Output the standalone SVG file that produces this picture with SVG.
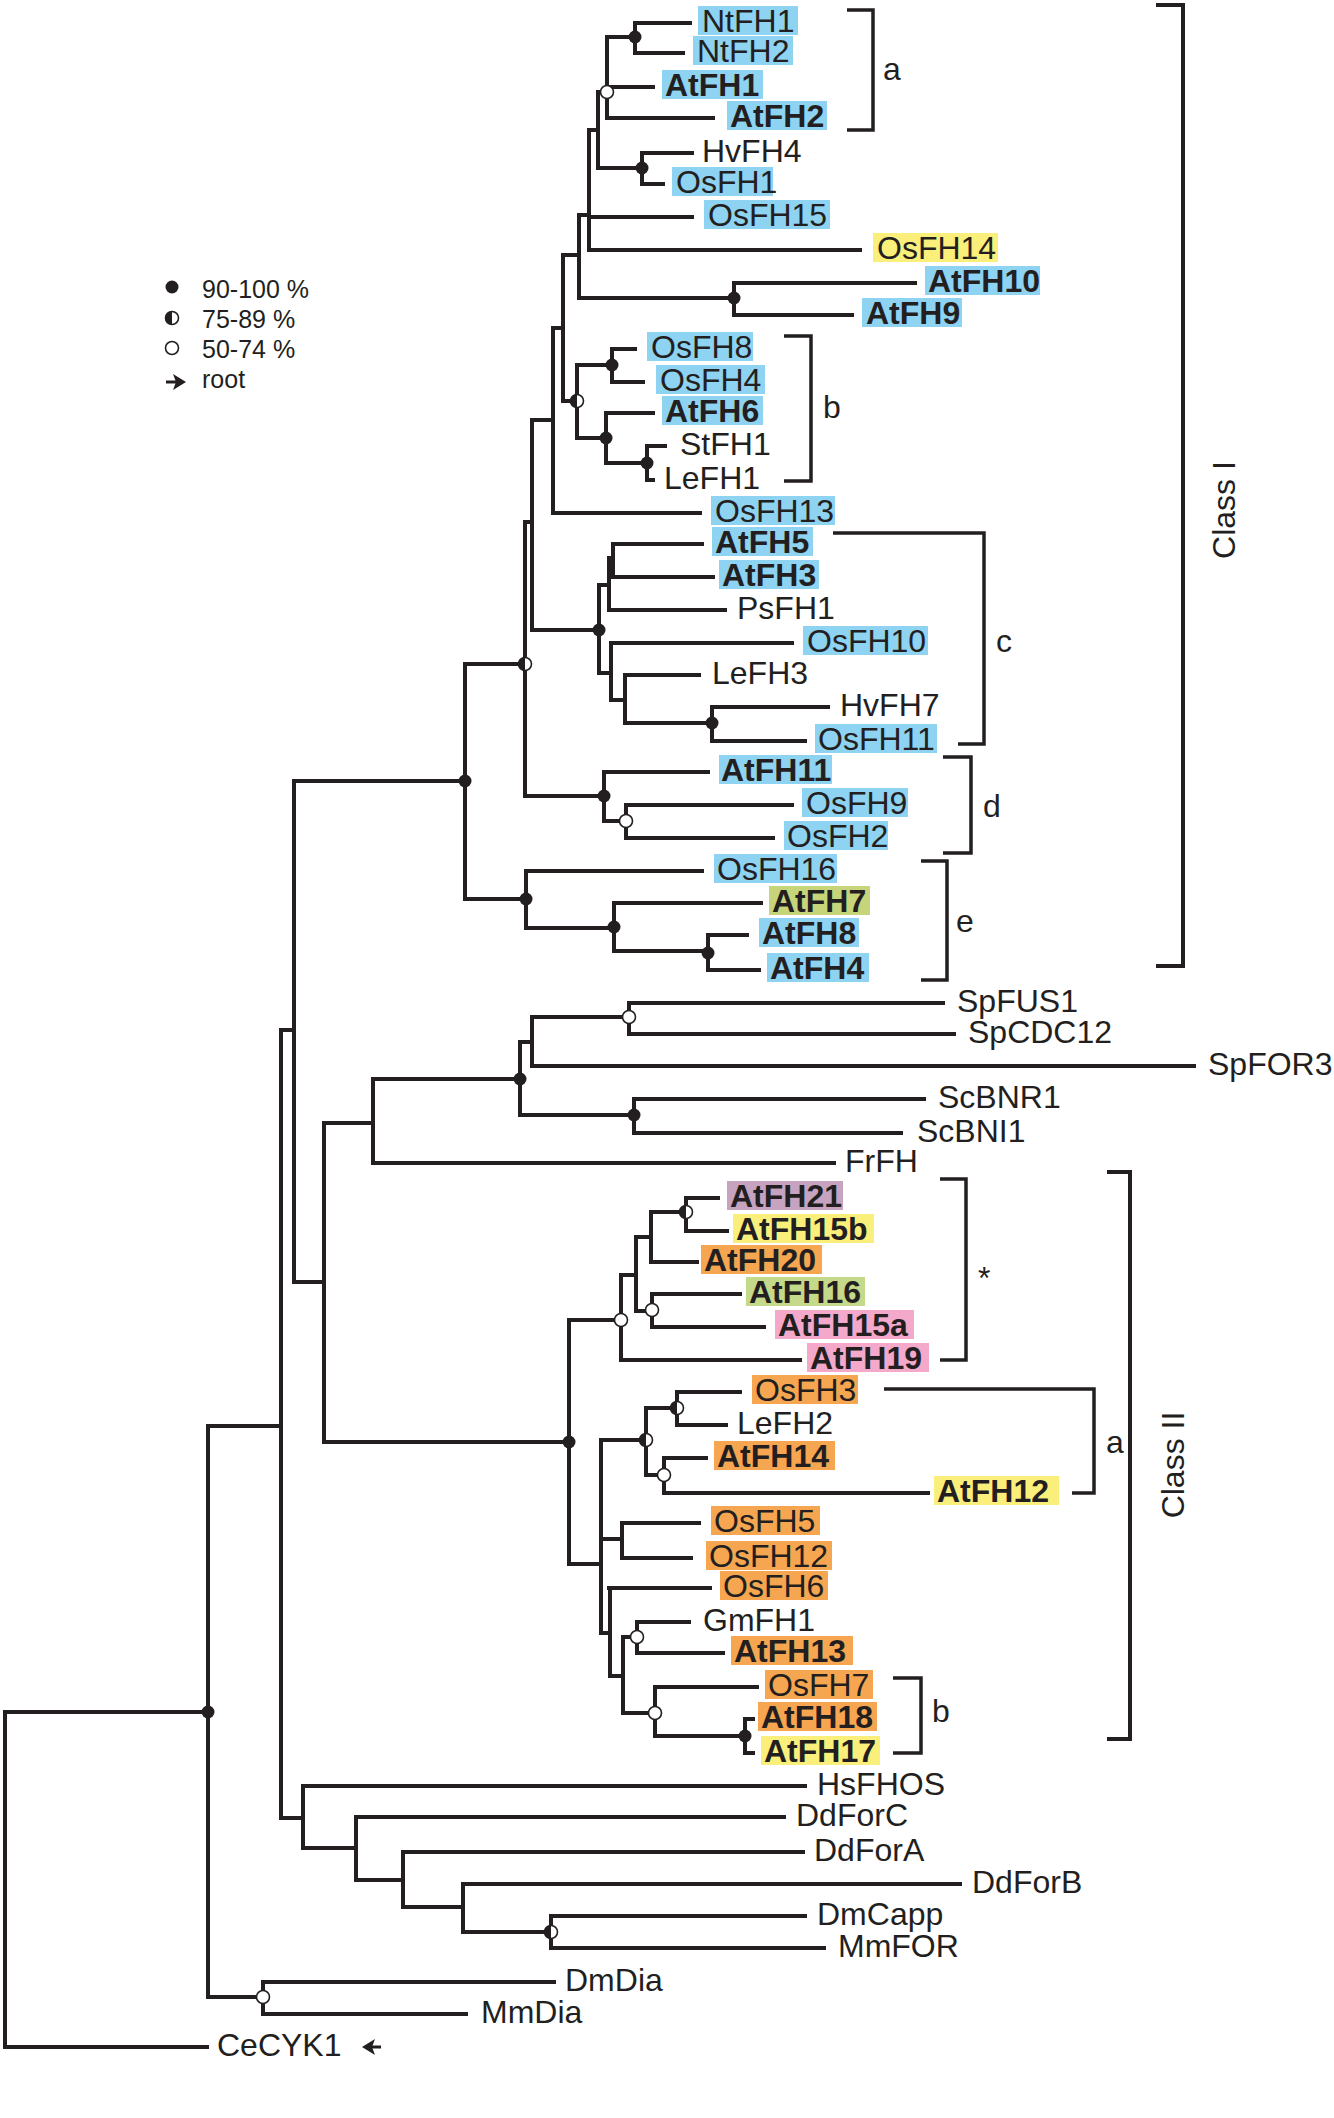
<svg xmlns="http://www.w3.org/2000/svg" xmlns:xlink="http://www.w3.org/1999/xlink" width="1334" height="2118" viewBox="0 0 1334 2118">
<defs>
<style>
.br{stroke:#231f20;stroke-width:4;fill:none;stroke-linecap:square}
.bk{stroke:#231f20;stroke-width:3.5;fill:none}
text{font-family:"Liberation Sans",Arial,Helvetica,sans-serif;font-size:32px;fill:#231f20}
.b{font-weight:bold}
.lg{font-size:25px}
.bl{fill:#8ed3f2}.ye{fill:#fbef7c}.or{fill:#f6a650}.ol{fill:#c8d47a}.gr{fill:#c5d98b}.mv{fill:#c6a4bf}.pk{fill:#f4a9cb}
</style>
<circle id="dF" r="6.5" fill="#231f20"/>
<circle id="dO" r="6.5" fill="#fff" stroke="#231f20" stroke-width="1.6"/>
<g id="dH"><circle r="6.5" fill="#fff" stroke="#231f20" stroke-width="1.6"/><path d="M0,-6.5A6.5,6.5 0 0 0 0,6.5Z" fill="#231f20"/></g>
</defs>
<rect width="1334" height="2118" fill="#fff"/>

<g id="connectors" class="br">
<path d="M635,23H690M635,53H683M607,87H653M607,118H713M642,153H692M642,184H663M589,217H692M589,250H860M734,283H915M734,315H852M612,349H635M612,382H643M606,413H653M647,446H665M647,480H653M553,513H700M613,544H702M613,577H713M609,610H725M611,643H792M625,675H699M712,707H828M712,741H805M604,772H708M626,805H792M626,838H773M526,871H702M614,903H761M708,935H747M708,970H759"/>
<path d="M629,1003H943M629,1034H954M532,1066H1194M634,1099H924M634,1133H901M373,1163H834"/>
<path d="M686,1198H718M686,1231H727M651,1262H697M652,1294H740M652,1327H764M621,1360H800M677,1392H740M677,1425H726M664,1458H706M664,1493H928M622,1523H699M622,1558H691M609,1588H710M637,1622H689M637,1653H723M655,1687H757M745,1719H753M745,1753H753"/>
<path d="M303,1786H805M356,1817H784M403,1852H803M463,1884H960M551,1916H805M551,1948H824M263,1982H554M263,2014H466M5,2047H207"/>
<path d="M635,23V53M607,37H635M607,37V118M598,92H607M642,153V184M598,168H642M598,92V168M589,130H598M589,130V250M579,215H589M734,283V315M579,298H734M579,215V298M563,255H579M612,349V382M577,365H612M647,446V480M606,463H647M606,413V463M577,438H606M577,365V438M563,401H577M563,255V401M553,328H563M553,328V513M532,420H553"/>
<path d="M613,544V577M609,558H613M609,558V610M599,585H609M712,707V741M625,723H712M625,675V723M611,700H625M611,643V700M599,673H611M599,585V673M532,630H599M532,420V630M525,522H532M626,805V838M604,821H626M604,772V821M525,796H604M525,522V796M465,664H525M708,935V970M614,951H708M614,903V951M526,928H614M526,871V928M465,899H526M465,664V899M294,781H465"/>
<path d="M629,1003V1034M532,1017H629M532,1017V1066M520,1042H532M634,1099V1133M520,1115H634M520,1042V1115M373,1079H520M373,1079V1163M324,1123H373"/>
<path d="M686,1198V1231M651,1212H686M651,1212V1262M636,1237H651M652,1294V1327M636,1311H652M636,1237V1311M621,1275H636M621,1275V1360M569,1320H621M677,1392V1425M646,1408H677M664,1458V1493M646,1475H664M646,1408V1475M601,1440H646M622,1523V1558M601,1539H622M637,1622V1653M623,1637H637M745,1719V1753M655,1736H745M655,1687V1736M623,1713H655M623,1637V1713M610,1676H623M610,1588V1676M601,1633H610M601,1440V1633M569,1564H601M569,1320V1564M324,1442H569M324,1123V1442M294,1282H324M294,781V1282M281,1030H294"/>
<path d="M551,1916V1948M463,1932H551M463,1884V1932M403,1907H463M403,1852V1907M356,1880H403M356,1817V1880M303,1848H356M303,1786V1848M281,1818H303M281,1030V1818M208,1426H281M263,1982V2014M208,1997H263M208,1426V1997M5,1712H208M5,1712V2047"/>
</g>

<g id="supports">
<use href="#dF" x="635" y="37"/><use href="#dF" x="642" y="168"/><use href="#dF" x="734" y="298"/><use href="#dF" x="612" y="365"/><use href="#dF" x="606" y="438"/><use href="#dF" x="647" y="463"/><use href="#dF" x="599" y="630"/><use href="#dF" x="712" y="723"/><use href="#dF" x="604" y="796"/><use href="#dF" x="465" y="781"/><use href="#dF" x="526" y="899"/><use href="#dF" x="614" y="927"/><use href="#dF" x="708" y="953"/><use href="#dF" x="520" y="1079"/><use href="#dF" x="634" y="1115"/><use href="#dF" x="569" y="1442"/><use href="#dF" x="745" y="1736"/><use href="#dF" x="208" y="1712"/>
<use href="#dO" x="607" y="92"/><use href="#dO" x="626" y="821"/><use href="#dO" x="629" y="1017"/><use href="#dO" x="652" y="1310"/><use href="#dO" x="621" y="1320"/><use href="#dO" x="664" y="1475"/><use href="#dO" x="637" y="1637"/><use href="#dO" x="655" y="1713"/><use href="#dO" x="263" y="1997"/>
<use href="#dH" x="577" y="401"/><use href="#dH" x="525" y="664"/><use href="#dH" x="686" y="1212"/><use href="#dH" x="677" y="1408"/><use href="#dH" x="646" y="1440"/><use href="#dH" x="551" y="1932"/>
</g>

<g id="NtFH1"><rect class="bl" x="698" y="6" width="100" height="29"/><text x="702" y="32">NtFH1</text></g>
<g id="NtFH2"><rect class="bl" x="693" y="36" width="100" height="29"/><text x="697" y="62">NtFH2</text></g>
<g id="AtFH1"><rect class="bl" x="662" y="70" width="101" height="29"/><text class="b" x="665" y="96">AtFH1</text></g>
<g id="AtFH2"><rect class="bl" x="727" y="101" width="100" height="29"/><text class="b" x="730" y="127">AtFH2</text></g>
<g id="HvFH4"><text x="702" y="162">HvFH4</text></g>
<g id="OsFH1"><rect class="bl" x="672" y="167" width="101" height="29"/><text x="676" y="193">OsFH1</text></g>
<g id="OsFH15"><rect class="bl" x="704" y="200" width="126" height="29"/><text x="708" y="226">OsFH15</text></g>
<g id="OsFH14"><rect class="ye" x="873" y="233" width="125" height="29"/><text x="877" y="259">OsFH14</text></g>
<g id="AtFH10"><rect class="bl" x="925" y="266" width="115" height="29"/><text class="b" x="928" y="292">AtFH10</text></g>
<g id="AtFH9"><rect class="bl" x="862" y="298" width="100" height="29"/><text class="b" x="866" y="324">AtFH9</text></g>
<g id="OsFH8"><rect class="bl" x="647" y="332" width="106" height="29"/><text x="651" y="358">OsFH8</text></g>
<g id="OsFH4"><rect class="bl" x="656" y="365" width="109" height="29"/><text x="660" y="391">OsFH4</text></g>
<g id="AtFH6"><rect class="bl" x="662" y="396" width="101" height="29"/><text class="b" x="665" y="422">AtFH6</text></g>
<g id="StFH1"><text x="680" y="455">StFH1</text></g>
<g id="LeFH1"><text x="664" y="489">LeFH1</text></g>
<g id="OsFH13"><rect class="bl" x="711" y="496" width="124" height="29"/><text x="715" y="522">OsFH13</text></g>
<g id="AtFH5"><rect class="bl" x="712" y="527" width="101" height="29"/><text class="b" x="715" y="553">AtFH5</text></g>
<g id="AtFH3"><rect class="bl" x="719" y="560" width="100" height="29"/><text class="b" x="722" y="586">AtFH3</text></g>
<g id="PsFH1"><text x="737" y="619">PsFH1</text></g>
<g id="OsFH10"><rect class="bl" x="803" y="626" width="125" height="29"/><text x="807" y="652">OsFH10</text></g>
<g id="LeFH3"><text x="712" y="684">LeFH3</text></g>
<g id="HvFH7"><text x="840" y="716">HvFH7</text></g>
<g id="OsFH11"><rect class="bl" x="815" y="724" width="122" height="29"/><text x="818" y="750">OsFH11</text></g>
<g id="AtFH11"><rect class="bl" x="719" y="755" width="113" height="29"/><text class="b" x="721" y="781">AtFH11</text></g>
<g id="OsFH9"><rect class="bl" x="802" y="788" width="106" height="29"/><text x="806" y="814">OsFH9</text></g>
<g id="OsFH2"><rect class="bl" x="784" y="821" width="104" height="29"/><text x="787" y="847">OsFH2</text></g>
<g id="OsFH16"><rect class="bl" x="714" y="854" width="123" height="29"/><text x="717" y="880">OsFH16</text></g>
<g id="AtFH7"><rect class="ol" x="769" y="886" width="101" height="29"/><text class="b" x="772" y="912">AtFH7</text></g>
<g id="AtFH8"><rect class="bl" x="759" y="918" width="100" height="29"/><text class="b" x="762" y="944">AtFH8</text></g>
<g id="AtFH4"><rect class="bl" x="767" y="953" width="102" height="29"/><text class="b" x="770" y="979">AtFH4</text></g>

<g id="SpFUS1"><text x="957" y="1012">SpFUS1</text></g>
<g id="SpCDC12"><text x="968" y="1043">SpCDC12</text></g>
<g id="SpFOR3"><text x="1208" y="1075">SpFOR3</text></g>
<g id="ScBNR1"><text x="938" y="1108">ScBNR1</text></g>
<g id="ScBNI1"><text x="917" y="1142">ScBNI1</text></g>
<g id="FrFH"><text x="845" y="1172">FrFH</text></g>

<g id="AtFH21"><rect class="mv" x="727" y="1181" width="116" height="29"/><text class="b" x="730" y="1207">AtFH21</text></g>
<g id="AtFH15b"><rect class="ye" x="733" y="1214" width="141" height="29"/><text class="b" x="736" y="1240">AtFH15b</text></g>
<g id="AtFH20"><rect class="or" x="701" y="1245" width="121" height="29"/><text class="b" x="704" y="1271">AtFH20</text></g>
<g id="AtFH16"><rect class="gr" x="746" y="1277" width="119" height="29"/><text class="b" x="749" y="1303">AtFH16</text></g>
<g id="AtFH15a"><rect class="pk" x="775" y="1310" width="139" height="29"/><text class="b" x="778" y="1336">AtFH15a</text></g>
<g id="AtFH19"><rect class="pk" x="807" y="1343" width="122" height="29"/><text class="b" x="810" y="1369">AtFH19</text></g>
<g id="OsFH3"><rect class="or" x="752" y="1375" width="106" height="29"/><text x="755" y="1401">OsFH3</text></g>
<g id="LeFH2"><text x="737" y="1434">LeFH2</text></g>
<g id="AtFH14"><rect class="or" x="714" y="1441" width="121" height="29"/><text class="b" x="717" y="1467">AtFH14</text></g>
<g id="AtFH12"><rect class="ye" x="934" y="1476" width="125" height="29"/><text class="b" x="937" y="1502">AtFH12</text></g>
<g id="OsFH5"><rect class="or" x="711" y="1506" width="109" height="29"/><text x="714" y="1532">OsFH5</text></g>
<g id="OsFH12"><rect class="or" x="706" y="1541" width="126" height="29"/><text x="709" y="1567">OsFH12</text></g>
<g id="OsFH6"><rect class="or" x="720" y="1571" width="108" height="29"/><text x="723" y="1597">OsFH6</text></g>
<g id="GmFH1"><text x="703" y="1631">GmFH1</text></g>
<g id="AtFH13"><rect class="or" x="731" y="1636" width="122" height="29"/><text class="b" x="734" y="1662">AtFH13</text></g>
<g id="OsFH7"><rect class="or" x="765" y="1670" width="108" height="29"/><text x="768" y="1696">OsFH7</text></g>
<g id="AtFH18"><rect class="or" x="758" y="1702" width="119" height="29"/><text class="b" x="761" y="1728">AtFH18</text></g>
<g id="AtFH17"><rect class="ye" x="761" y="1736" width="119" height="29"/><text class="b" x="764" y="1762">AtFH17</text></g>

<g id="HsFHOS"><text x="817" y="1795">HsFHOS</text></g>
<g id="DdForC"><text x="796" y="1826">DdForC</text></g>
<g id="DdForA"><text x="814" y="1861">DdForA</text></g>
<g id="DdForB"><text x="972" y="1893">DdForB</text></g>
<g id="DmCapp"><text x="817" y="1925">DmCapp</text></g>
<g id="MmFOR"><text x="838" y="1957">MmFOR</text></g>
<g id="DmDia"><text x="565" y="1991">DmDia</text></g>
<g id="MmDia"><text x="481" y="2023">MmDia</text></g>
<g id="CeCYK1"><text x="217" y="2056">CeCYK1</text><path d="M362,2047L375,2039L372,2047L375,2055Z" fill="#231f20"/><path d="M370,2047H381" stroke="#231f20" stroke-width="3"/></g>

<g id="brackets" class="bk">
<path d="M847,10H873V130H847"/>
<path d="M784,336H811V481H784"/>
<path d="M833,533H984V744H958"/>
<path d="M943,757H971V853H943"/>
<path d="M921,861H947V980H921"/>
<path d="M1156,5H1183V966H1156" stroke-width="4"/>
<path d="M940,1179H966V1360H940"/>
<path d="M884,1389H1094V1493H1072"/>
<path d="M893,1678H921V1753H893"/>
<path d="M1107,1172H1130V1739H1107" stroke-width="4"/>
</g>
<g id="bracket-labels">
<text x="883" y="80">a</text>
<text x="823" y="418">b</text>
<text x="996" y="652">c</text>
<text x="983" y="817">d</text>
<text x="956" y="932">e</text>
<text x="978" y="1289">*</text>
<text x="1106" y="1453">a</text>
<text x="932" y="1722">b</text>
<text transform="translate(1235,510) rotate(-90)" text-anchor="middle">Class I</text>
<text transform="translate(1184,1465) rotate(-90)" text-anchor="middle">Class II</text>
</g>

<g id="legend">
<use href="#dF" x="172" y="287"/>
<use href="#dH" x="172" y="318"/>
<use href="#dO" x="172" y="348"/>
<path d="M166,382H178" stroke="#231f20" stroke-width="3"/>
<path d="M186,382L173,374L176,382L173,390Z" fill="#231f20"/>
<text class="lg" x="202" y="298">90-100 %</text>
<text class="lg" x="202" y="328">75-89 %</text>
<text class="lg" x="202" y="358">50-74 %</text>
<text class="lg" x="202" y="388">root</text>
</g>
</svg>
